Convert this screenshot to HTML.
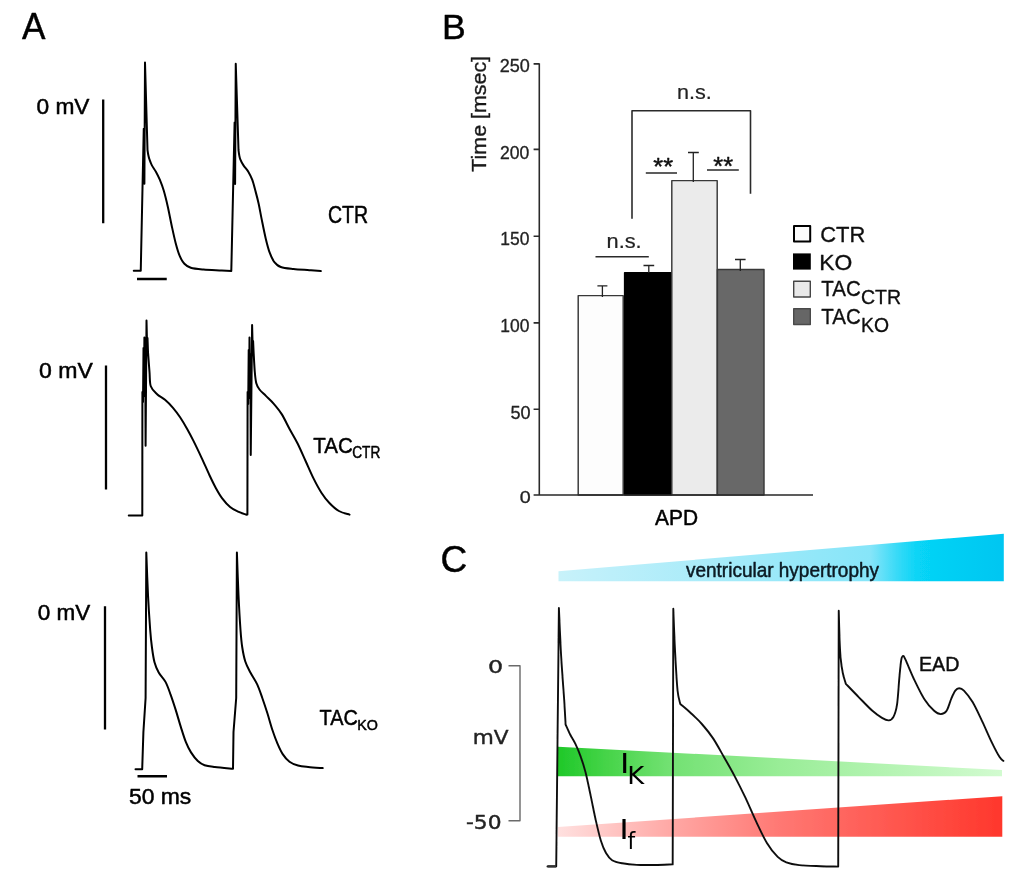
<!DOCTYPE html>
<html lang="en"><head><meta charset="utf-8"><title>Figure</title>
<style>html,body{margin:0;padding:0;background:#fff}body{width:1024px;height:882px;overflow:hidden}</style>
</head><body>
<svg width="1024" height="882" viewBox="0 0 1024 882" style="display:block;font-family:'Liberation Sans',Arial,sans-serif">
<defs>
<linearGradient id="gb" x1="558" x2="1004" y1="0" y2="0" gradientUnits="userSpaceOnUse">
<stop offset="0" stop-color="#c8f2fa"/><stop offset="0.12" stop-color="#bceffa"/><stop offset="0.35" stop-color="#a8ebf9"/><stop offset="0.70" stop-color="#86e5f9"/><stop offset="0.76" stop-color="#38daf7"/><stop offset="0.81" stop-color="#07d4f6"/><stop offset="1" stop-color="#00c6f1"/>
</linearGradient>
<linearGradient id="gg" x1="558" x2="1002" y1="0" y2="0" gradientUnits="userSpaceOnUse">
<stop offset="0" stop-color="#1fc829"/><stop offset="0.1" stop-color="#43d346"/><stop offset="0.25" stop-color="#72e172"/><stop offset="0.5" stop-color="#99ed97"/><stop offset="1" stop-color="#d2fbd0"/>
</linearGradient>
<linearGradient id="gr" x1="558" x2="1002" y1="0" y2="0" gradientUnits="userSpaceOnUse">
<stop offset="0" stop-color="#ffe0df"/><stop offset="0.25" stop-color="#ffa9a6"/><stop offset="0.5" stop-color="#ff7873"/><stop offset="1" stop-color="#ff372c"/>
</linearGradient>
<filter id="bl" x="-5%" y="-5%" width="110%" height="110%"><feGaussianBlur stdDeviation="0.45"/></filter>
</defs>
<rect width="1024" height="882" fill="#fff"/>
<g filter="url(#bl)" stroke-linejoin="round">
<text x="22.00" y="38.75" font-size="36.44" textLength="23.50" lengthAdjust="spacingAndGlyphs" fill="#000" stroke="#000" stroke-width="0.45">A</text>
<text x="36.50" y="114.30" font-size="22.15" textLength="53.03" lengthAdjust="spacingAndGlyphs" fill="#000" stroke="#000" stroke-width="0.5">0 mV</text>
<text x="39.00" y="377.95" font-size="21.43" textLength="53.78" lengthAdjust="spacingAndGlyphs" fill="#000" stroke="#000" stroke-width="0.5">0 mV</text>
<text x="37.75" y="620.30" font-size="21.44" textLength="52.53" lengthAdjust="spacingAndGlyphs" fill="#000" stroke="#000" stroke-width="0.5">0 mV</text>
<text x="328.00" y="223.10" font-size="23.57" textLength="40.10" lengthAdjust="spacingAndGlyphs" fill="#000" stroke="#000" stroke-width="0.5">CTR</text>
<text x="313.25" y="452.65" font-size="22.50" textLength="39.54" lengthAdjust="spacingAndGlyphs" fill="#000" stroke="#000" stroke-width="0.5">TAC</text>
<text x="352.25" y="458.40" font-size="15.72" textLength="28.09" lengthAdjust="spacingAndGlyphs" fill="#000" stroke="#000" stroke-width="0.5">CTR</text>
<text x="319.50" y="725.15" font-size="21.79" textLength="38.29" lengthAdjust="spacingAndGlyphs" fill="#000" stroke="#000" stroke-width="0.5">TAC</text>
<text x="357.25" y="729.90" font-size="15.01" textLength="20.68" lengthAdjust="spacingAndGlyphs" fill="#000" stroke="#000" stroke-width="0.5">KO</text>
<text x="129.00" y="804.45" font-size="22.51" textLength="62.30" lengthAdjust="spacingAndGlyphs" fill="#000" stroke="#000" stroke-width="0.5">50 ms</text>
<g stroke="#000" stroke-width="2.3" fill="none">
<path d="M103.2 99.5V223.2M106 365.5V489.5M105 606.2V729.5M137 279H166.75M137.5 776.25H167"/>
</g>
<g stroke="#000" stroke-width="2" fill="none" stroke-linejoin="round" stroke-linecap="round">
<path d="M133.75 270.75L140.75 270.75 L143.75 128.75 L144.40 183.75 L145.00 62.50 L147.50 150.00C147.63 150.83 147.97 153.42 148.30 155.00 C148.63 156.58 148.90 157.77 149.50 159.50 C150.10 161.23 150.83 163.37 151.90 165.40 C152.97 167.43 154.58 169.32 155.90 171.70 C157.22 174.08 158.48 176.52 159.80 179.70 C161.12 182.88 162.47 186.30 163.80 190.80 C165.13 195.30 166.48 200.88 167.80 206.70 C169.12 212.52 170.38 219.62 171.70 225.70 C173.02 231.78 174.37 238.17 175.70 243.20 C177.03 248.23 178.25 252.47 179.70 255.90 C181.15 259.33 182.55 261.82 184.40 263.80 C186.25 265.78 187.62 266.83 190.80 267.80 C193.98 268.77 198.73 269.15 203.50 269.60 C208.27 270.05 214.77 270.27 219.40 270.50 C224.03 270.73 229.32 270.92 231.30 271.00L234.60 122.50 L235.10 184.00 L235.75 63.75 L238.50 150.00C238.62 150.83 238.90 153.45 239.20 155.00 C239.50 156.55 239.58 157.57 240.30 159.30 C241.02 161.03 242.17 163.33 243.50 165.40 C244.83 167.47 246.85 169.32 248.30 171.70 C249.75 174.08 251.02 176.52 252.20 179.70 C253.38 182.88 254.33 186.83 255.40 190.80 C256.47 194.77 257.55 198.73 258.60 203.50 C259.65 208.27 260.52 213.58 261.70 219.40 C262.88 225.22 264.37 232.85 265.70 238.40 C267.03 243.95 268.25 248.73 269.70 252.70 C271.15 256.67 272.55 259.82 274.40 262.20 C276.25 264.58 277.62 265.87 280.80 267.00 C283.98 268.13 288.73 268.47 293.50 269.00 C298.27 269.53 304.85 269.85 309.40 270.20 C313.95 270.55 318.90 270.95 320.80 271.10"/>
<path d="M128.75 515.50L142.30 515.50 L142.40 392.00 L143.00 402.00 L143.50 348.00 L143.90 396.00 L144.40 337.50 L144.90 384.00 L145.20 352.00 L145.60 445.80 L146.50 320.50 L147.10 346.00 L147.50 338.00 L148.00 352.00C148.25 355.33 149.03 366.28 149.50 372.00 C149.97 377.72 149.53 382.58 150.80 386.30 C152.07 390.02 154.73 392.05 157.10 394.30 C159.47 396.55 162.35 397.55 165.00 399.80 C167.65 402.05 170.48 404.88 173.00 407.80 C175.52 410.72 177.72 413.73 180.10 417.30 C182.48 420.87 185.05 425.23 187.30 429.20 C189.55 433.17 191.22 436.33 193.60 441.10 C195.98 445.87 198.95 452.12 201.60 457.80 C204.25 463.48 207.13 470.18 209.50 475.20 C211.87 480.22 213.68 484.05 215.80 487.90 C217.92 491.75 219.82 495.12 222.20 498.30 C224.58 501.48 227.45 504.77 230.10 507.00 C232.75 509.23 235.41 510.42 238.10 511.70 C240.79 512.98 244.89 514.20 246.25 514.70L247.40 514.50 L247.60 392.00 L248.20 404.00 L248.70 350.00 L249.10 398.00 L249.50 337.50 L250.00 386.00 L250.40 354.00 L250.75 455.00 L252.10 325.00 L252.70 348.00 L253.10 341.00 L253.60 352.00C253.80 355.33 254.35 366.80 254.80 372.00 C255.25 377.20 255.52 380.28 256.30 383.20 C257.08 386.12 257.90 387.38 259.50 389.50 C261.10 391.62 263.52 393.52 265.90 395.90 C268.28 398.28 271.17 400.77 273.80 403.80 C276.43 406.83 279.05 409.87 281.70 414.10 C284.35 418.33 287.05 424.30 289.70 429.20 C292.35 434.10 294.95 438.20 297.60 443.50 C300.25 448.80 302.95 455.18 305.60 461.00 C308.25 466.82 310.87 473.12 313.50 478.40 C316.13 483.68 318.75 488.60 321.40 492.70 C324.05 496.80 326.48 499.95 329.40 503.00 C332.32 506.05 335.55 509.07 338.90 511.00 C342.25 512.93 347.73 514.00 349.50 514.60"/>
<path d="M135.50 769.25L142.20 769.25 L143.40 732.00 L145.60 698.00 L146.30 552.50C146.58 559.58 147.35 582.08 148.00 595.00 C148.65 607.92 149.55 621.33 150.20 630.00 C150.85 638.67 151.18 641.62 151.90 647.00 C152.62 652.38 153.37 658.05 154.50 662.30 C155.63 666.55 156.87 669.23 158.70 672.50 C160.53 675.77 163.52 678.22 165.50 681.90 C167.48 685.58 168.90 689.93 170.60 694.60 C172.30 699.27 174.00 704.52 175.70 709.90 C177.40 715.28 179.10 721.52 180.80 726.90 C182.50 732.28 184.20 737.95 185.90 742.20 C187.60 746.45 189.02 749.27 191.00 752.40 C192.98 755.53 195.53 758.87 197.80 761.00 C200.07 763.13 201.77 764.20 204.60 765.20 C207.43 766.20 210.12 766.42 214.80 767.00 C219.48 767.58 229.72 768.42 232.70 768.70L233.00 768.70 L233.50 732.00 L236.20 698.00 L236.90 552.50C237.17 559.58 237.90 582.08 238.50 595.00 C239.10 607.92 239.88 621.33 240.50 630.00 C241.12 638.67 241.40 641.75 242.20 647.00 C243.00 652.25 243.93 657.25 245.30 661.50 C246.67 665.75 248.42 668.68 250.40 672.50 C252.38 676.32 255.22 680.15 257.20 684.40 C259.18 688.65 260.60 693.18 262.30 698.00 C264.00 702.82 265.70 707.92 267.40 713.30 C269.10 718.68 270.80 725.20 272.50 730.30 C274.20 735.40 275.90 739.93 277.60 743.90 C279.30 747.87 280.72 751.12 282.70 754.10 C284.68 757.08 286.95 759.90 289.50 761.80 C292.05 763.70 294.88 764.63 298.00 765.50 C301.12 766.37 304.08 766.57 308.20 767.00 C312.32 767.43 320.28 767.92 322.70 768.10"/>
</g>
<text x="442.00" y="38.75" font-size="35.37" textLength="23.75" lengthAdjust="spacingAndGlyphs" fill="#000" stroke="#000" stroke-width="0.45">B</text>
<text transform="translate(486.25 171.75) rotate(-90)" font-size="21.09" textLength="115.79" lengthAdjust="spacingAndGlyphs" fill="#1a1a1a" stroke="#1a1a1a" stroke-width="0.35">Time [msec]</text>
<text x="499.75" y="71.75" font-size="17.51" textLength="30.10" lengthAdjust="spacingAndGlyphs" fill="#222" stroke="#222" stroke-width="0.3">250</text>
<text x="500.00" y="158.90" font-size="17.50" textLength="29.34" lengthAdjust="spacingAndGlyphs" fill="#222" stroke="#222" stroke-width="0.3">200</text>
<text x="500.25" y="245.25" font-size="17.51" textLength="29.14" lengthAdjust="spacingAndGlyphs" fill="#222" stroke="#222" stroke-width="0.3">150</text>
<text x="500.25" y="332.00" font-size="17.51" textLength="29.14" lengthAdjust="spacingAndGlyphs" fill="#222" stroke="#222" stroke-width="0.3">100</text>
<text x="510.50" y="419.00" font-size="17.86" textLength="20.11" lengthAdjust="spacingAndGlyphs" fill="#222" stroke="#222" stroke-width="0.3">50</text>
<text x="519.75" y="503.25" font-size="17.15" textLength="10.99" lengthAdjust="spacingAndGlyphs" fill="#222" stroke="#222" stroke-width="0.3">0</text>
<g stroke="#383838" stroke-width="1.45">
<rect x="578.2" y="295.6" width="45" height="199.4" fill="#fdfdfd"/>
<rect x="624.6" y="272.8" width="46.8" height="222.2" fill="#000" stroke="#000"/>
<rect x="671.8" y="180.6" width="45.4" height="314.4" fill="#ebebeb"/>
<rect x="717.4" y="269.5" width="46.6" height="225.5" fill="#686868"/>
</g>
<g stroke="#222" stroke-width="1.3" fill="none">
<path d="M602.4 297V285.8M597.4 285.8H607.4"/>
<path d="M648.8 273V265.5M643.5 265.5H654.2"/>
<path d="M693.3 182V152.5M688 152.5H698.8"/>
<path d="M740.3 271V259.5M735 259.5H745.6"/>
</g>
<g stroke="#2a2a2a" stroke-width="1.6" fill="none">
<path d="M539.3 63.4V495M533.6 495H813"/>
<path d="M533.6 63.9H539.5M533.6 149.4H539.5M533.6 236.25H539.5M533.6 322.9H539.5M533.6 409.3H539.5"/>
<path d="M632 218.8V110.7H750.5V193.8"/>
<path d="M595.5 256.7H648.8M645.8 173H677M707 170H738.8"/>
</g>
<text x="677.00" y="98.90" font-size="21.09" textLength="34.70" lengthAdjust="spacingAndGlyphs" fill="#222" stroke="#222" stroke-width="0.2">n.s.</text>
<text x="606.50" y="247.55" font-size="20.05" textLength="35.18" lengthAdjust="spacingAndGlyphs" fill="#222" stroke="#222" stroke-width="0.2">n.s.</text>
<text x="653.25" y="175.00" font-size="23.59" textLength="19.81" lengthAdjust="spacingAndGlyphs" fill="#111" stroke="#111" stroke-width="0.45">**</text>
<text x="713.25" y="174.75" font-size="25.02" textLength="19.81" lengthAdjust="spacingAndGlyphs" fill="#111" stroke="#111" stroke-width="0.45">**</text>
<text x="655.00" y="525.00" font-size="21.79" textLength="43.02" lengthAdjust="spacingAndGlyphs" fill="#000" stroke="#000" stroke-width="0.5">APD</text>
<rect x="794" y="226" width="16.2" height="15.6" fill="#fcfcfc" stroke="#000" stroke-width="2"/>
<rect x="793" y="253.4" width="17.8" height="16.2" fill="#000"/>
<rect x="793.7" y="281.2" width="16.6" height="15.8" fill="#e9e9e9" stroke="#444" stroke-width="1.4"/>
<rect x="793.7" y="308.7" width="16.6" height="15.8" fill="#666" stroke="#4a4a4a" stroke-width="1.4"/>
<text x="820.25" y="241.75" font-size="22.51" textLength="45.10" lengthAdjust="spacingAndGlyphs" fill="#111" stroke="#111" stroke-width="0.35">CTR</text>
<text x="819.25" y="269.50" font-size="21.79" textLength="33.03" lengthAdjust="spacingAndGlyphs" fill="#111" stroke="#111" stroke-width="0.35">KO</text>
<text x="821.25" y="296.25" font-size="21.79" textLength="39.55" lengthAdjust="spacingAndGlyphs" fill="#111" stroke="#111" stroke-width="0.35">TAC</text>
<text x="861.00" y="303.70" font-size="20.01" textLength="40.11" lengthAdjust="spacingAndGlyphs" fill="#111" stroke="#111" stroke-width="0.35">CTR</text>
<text x="821.25" y="324.25" font-size="21.79" textLength="39.55" lengthAdjust="spacingAndGlyphs" fill="#111" stroke="#111" stroke-width="0.35">TAC</text>
<text x="861.00" y="331.70" font-size="20.01" textLength="27.97" lengthAdjust="spacingAndGlyphs" fill="#111" stroke="#111" stroke-width="0.35">KO</text>
<text x="440.50" y="571.75" font-size="36.43" textLength="26.69" lengthAdjust="spacingAndGlyphs" fill="#000" stroke="#000" stroke-width="0.45">C</text>
<path d="M558.5 571.3L1003.8 533.7V581.3H558.5Z" fill="url(#gb)"/>
<text x="686.00" y="577.00" font-size="20.09" textLength="193.00" lengthAdjust="spacingAndGlyphs" fill="#0a1a22" stroke="#0a1a22" stroke-width="0.5">ventricular hypertrophy</text>
<path d="M558 746.7L1002 770V776.3H558Z" fill="url(#gg)"/>
<path d="M558 827L1002.3 796.2V836.8H558Z" fill="url(#gr)"/>
<path d="M508.5 665.8H520V820.7H508.5" stroke="#6a6a6a" stroke-width="1.4" fill="none"/>
<text x="488.08" y="672.90" font-size="18.45" textLength="15.12" lengthAdjust="spacingAndGlyphs" fill="#222" stroke="#222" stroke-width="0.4" font-family="'DejaVu Sans',Verdana,sans-serif">0</text>
<text x="472.75" y="743.67" font-size="19.09" textLength="35.88" lengthAdjust="spacingAndGlyphs" fill="#222" stroke="#222" stroke-width="0.4" font-family="'DejaVu Sans',Verdana,sans-serif">mV</text>
<text x="466.00" y="828.50" font-size="18.96" textLength="35.51" lengthAdjust="spacingAndGlyphs" fill="#222" stroke="#222" stroke-width="0.4" font-family="'DejaVu Sans',Verdana,sans-serif">-50</text>
<path d="M547.50 866.40L556.20 866.40 L556.90 800.00 L558.90 608.00C559.22 615.00 560.17 638.10 560.80 650.00 C561.43 661.90 562.13 671.07 562.70 679.40 C563.27 687.73 563.72 692.48 564.20 700.00 C564.68 707.52 565.37 720.42 565.60 724.50C566.38 726.20 568.67 731.47 570.30 734.70 C571.93 737.93 573.70 740.33 575.40 743.90 C577.10 747.47 578.80 751.35 580.50 756.10 C582.20 760.85 583.90 765.77 585.60 772.40 C587.30 779.03 589.00 787.90 590.70 795.90 C592.40 803.90 594.10 812.92 595.80 820.40 C597.50 827.88 599.20 835.35 600.90 840.80 C602.60 846.25 604.13 849.87 606.00 853.10 C607.87 856.33 609.38 858.50 612.10 860.20 C614.82 861.90 618.22 862.52 622.30 863.30 C626.38 864.08 631.15 864.62 636.60 864.90 C642.05 865.18 649.05 865.08 655.00 865.00 C660.95 864.92 669.42 864.50 672.30 864.40L672.70 864.40 L673.30 608.80C673.58 615.67 674.30 636.47 675.00 650.00 C675.70 663.53 676.62 681.00 677.50 690.00 C678.38 699.00 679.83 701.67 680.30 704.00C682.17 705.62 687.83 710.28 691.50 713.70 C695.17 717.12 698.70 720.38 702.30 724.50 C705.90 728.62 709.52 733.02 713.10 738.40 C716.68 743.78 720.22 750.52 723.80 756.80 C727.38 763.08 731.00 769.28 734.60 776.10 C738.20 782.92 741.82 790.15 745.40 797.70 C748.98 805.25 752.52 813.87 756.10 821.40 C759.68 828.93 763.30 836.98 766.90 842.90 C770.50 848.82 774.47 853.67 777.70 856.90 C780.93 860.13 782.72 860.93 786.30 862.30 C789.88 863.67 793.47 864.45 799.20 865.10 C804.93 865.75 814.32 865.95 820.70 866.20 C827.08 866.45 834.70 866.53 837.50 866.60L838.20 866.60 L838.75 610.75C838.89 615.62 839.29 632.16 839.60 640.00 C839.91 647.84 840.07 652.30 840.60 657.80 C841.13 663.30 841.93 668.67 842.80 673.00 C843.67 677.33 845.30 682.00 845.80 683.80C847.98 686.05 854.47 692.80 858.90 697.30 C863.33 701.80 868.55 707.37 872.40 710.80 C876.25 714.23 879.27 716.30 882.00 717.90 C884.73 719.50 886.87 720.62 888.80 720.40 C890.73 720.18 892.22 719.32 893.60 716.60 C894.98 713.88 896.13 710.68 897.10 704.10 C898.07 697.52 898.70 684.50 899.40 677.10 C900.10 669.70 900.67 663.23 901.30 659.70 C901.93 656.17 902.50 655.90 903.20 655.90 C903.90 655.90 903.57 655.53 905.50 659.70 C907.43 663.87 911.65 674.32 914.80 680.90 C917.95 687.48 921.18 694.22 924.40 699.20 C927.62 704.18 931.37 708.32 934.10 710.80 C936.83 713.28 938.72 714.10 940.80 714.10 C942.88 714.10 944.83 713.43 946.60 710.80 C948.37 708.17 949.95 701.67 951.40 698.30 C952.85 694.93 954.02 692.27 955.30 690.60 C956.58 688.93 957.67 688.30 959.10 688.30 C960.53 688.30 961.65 688.30 963.90 690.60 C966.15 692.90 969.55 696.97 972.60 702.10 C975.65 707.23 978.98 714.65 982.20 721.40 C985.42 728.15 989.00 736.65 991.90 742.60 C994.80 748.55 997.68 754.05 999.60 757.10 C1001.52 760.15 1002.77 760.27 1003.40 760.90" stroke="#111" stroke-width="1.9" fill="none" stroke-linejoin="round" stroke-linecap="round"/>
<path d="M547.5 866.4H556" stroke="#333" stroke-width="2.4" fill="none"/>
<text x="919.00" y="671.25" font-size="20.72" textLength="40.41" lengthAdjust="spacingAndGlyphs" fill="#111" stroke="#111" stroke-width="0.5">EAD</text>
<text x="620.00" y="773.13" font-size="26.47" textLength="9.35" lengthAdjust="spacingAndGlyphs" fill="#000" stroke="#000" stroke-width="0" font-family="'DejaVu Sans',Verdana,sans-serif">I</text>
<text x="627.17" y="784.33" font-size="24.80" textLength="16.99" lengthAdjust="spacingAndGlyphs" fill="#000" stroke="#000" stroke-width="0" font-family="'DejaVu Sans',Verdana,sans-serif">K</text>
<text x="619.17" y="838.77" font-size="26.02" textLength="9.54" lengthAdjust="spacingAndGlyphs" fill="#000" stroke="#000" stroke-width="0" font-family="'DejaVu Sans',Verdana,sans-serif">I</text>
<text x="627.50" y="849.20" font-size="23.28" textLength="7.70" lengthAdjust="spacingAndGlyphs" fill="#000" stroke="#000" stroke-width="0" font-family="'DejaVu Sans',Verdana,sans-serif">f</text>
</g>
</svg>
</body></html>
